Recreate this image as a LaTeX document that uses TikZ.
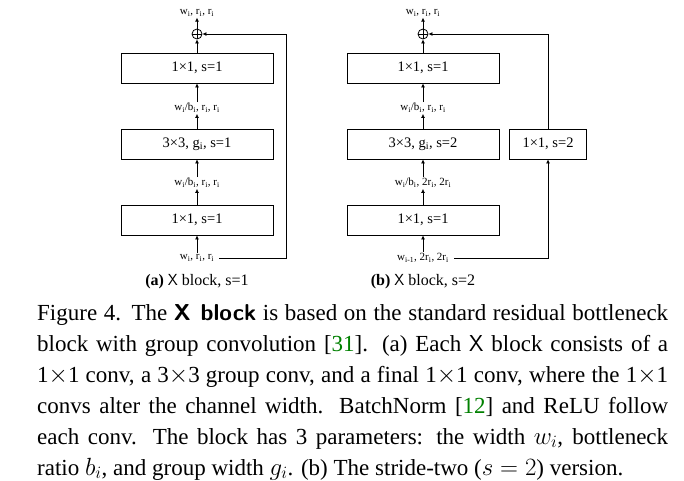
\documentclass[tikz,border=0pt]{standalone}
\usepackage{fontspec}
\setmainfont{Liberation Serif}
\usetikzlibrary{arrows.meta}
\tikzset{
  conv/.style={draw,thick,minimum width=152pt,minimum height=30pt,inner sep=0pt,font=\fontsize{14.5}{14.5}\selectfont},
  dim/.style={inner sep=1pt,font=\fontsize{11}{11}\selectfont},
  flow/.style={thick,-{Latex[length=4pt,width=4pt]}},
  capline/.style={anchor=base west,inner sep=0pt,font=\fontsize{23}{23}\selectfont}
}
\begin{document}
\begin{tikzpicture}[x=1pt,y=-1pt]
\useasboundingbox (0,0) rectangle (684,480);
% (a) stride one
\node[dim] (aout) at (197,13) {w\textsubscript{i}, r\textsubscript{i}, r\textsubscript{i}};
\node[draw,thick,circle,inner sep=0pt,minimum size=10pt] (aplus) at (197,34) {};
\draw[thick] (aplus.north)--(aplus.south) (aplus.west)--(aplus.east);
\node[conv] (ac) at (197,68) {1×1, s=1};
\node[dim] (am2) at (197,108) {w\textsubscript{i}/b\textsubscript{i}, r\textsubscript{i}, r\textsubscript{i}};
\node[conv] (ab) at (197,144) {3×3, g\textsubscript{i}, s=1};
\node[dim] (am1) at (197,183) {w\textsubscript{i}/b\textsubscript{i}, r\textsubscript{i}, r\textsubscript{i}};
\node[conv] (aa) at (197,220) {1×1, s=1};
\node[dim] (ain) at (197,258) {w\textsubscript{i}, r\textsubscript{i}, r\textsubscript{i}};
\coordinate (askip) at (286,258);
\draw[flow] (ain)--(aa); \draw[flow] (aa)--(am1); \draw[flow] (am1)--(ab);
\draw[flow] (ab)--(am2); \draw[flow] (am2)--(ac); \draw[flow] (ac)--(aplus);
\draw[flow] (aplus)--(aout);
\draw[flow] (ain.east)+(4,0)--(askip)|-(aplus);
\node[font=\fontsize{16}{16}\selectfont] (acap) at (197,282) {\textbf{(a)} {\sffamily X} block, s=1};
% (b) stride two
\node[dim] (bout) at (423,13) {w\textsubscript{i}, r\textsubscript{i}, r\textsubscript{i}};
\node[draw,thick,circle,inner sep=0pt,minimum size=10pt] (bplus) at (423,34) {};
\draw[thick] (bplus.north)--(bplus.south) (bplus.west)--(bplus.east);
\node[conv] (bc) at (423,68) {1×1, s=1};
\node[dim] (bm2) at (423,108) {w\textsubscript{i}/b\textsubscript{i}, r\textsubscript{i}, r\textsubscript{i}};
\node[conv] (bb) at (423,144) {3×3, g\textsubscript{i}, s=2};
\node[dim] (bm1) at (423,183) {w\textsubscript{i}/b\textsubscript{i}, 2r\textsubscript{i}, 2r\textsubscript{i}};
\node[conv] (ba) at (423,220) {1×1, s=1};
\node[dim] (bin) at (423,258) {w\textsubscript{i-1}, 2r\textsubscript{i}, 2r\textsubscript{i}};
\node[conv,minimum width=77pt] (bproj) at (548,144) {1×1, s=2};
\draw[flow] (bin)--(ba); \draw[flow] (ba)--(bm1); \draw[flow] (bm1)--(bb);
\draw[flow] (bb)--(bm2); \draw[flow] (bm2)--(bc); \draw[flow] (bc)--(bplus);
\draw[flow] (bplus)--(bout);
\draw[flow] (bin.east)+(4,0)-|(bproj);
\draw[flow] (bproj)|-(bplus);
\node[font=\fontsize{16}{16}\selectfont] (bcap) at (423,282) {\textbf{(b)} {\sffamily X} block, s=2};
% figure caption
\node[capline] (l1) at (37,320) {\makebox[631pt][s]{Figure 4. The \textbf{\sffamily X block} is based on the standard residual bottleneck}};
\node[capline] (l2) at (37,351) {\makebox[631pt][s]{block with group convolution [{\color{green!50!black}31}]. (a) Each {\sffamily X} block consists of a}};
\node[capline] (l3) at (37,382) {\makebox[631pt][s]{1$\times$1 conv, a 3$\times$3 group conv, and a final 1$\times$1 conv, where the 1$\times$1}};
\node[capline] (l4) at (37,413) {\makebox[631pt][s]{convs alter the channel width. BatchNorm [{\color{green!50!black}12}] and ReLU follow}};
\node[capline] (l5) at (37,444) {\makebox[631pt][s]{each conv. The block has 3 parameters: the width $w_i$, bottleneck}};
\node[capline] (l6) at (37,475) {ratio $b_i$, and group width $g_i$. (b) The stride-two ($s=2$) version.};
\end{tikzpicture}
\end{document}
